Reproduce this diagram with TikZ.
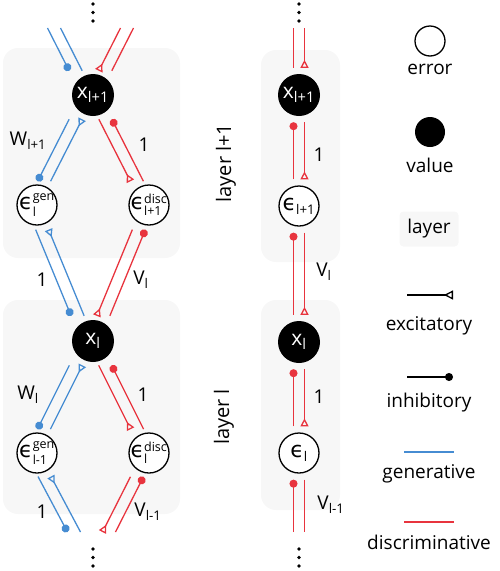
\documentclass[tikz,border=0pt]{standalone}
\usepackage{fontspec}
\usepackage{amsmath}
\setmainfont{Open Sans}
\newfontfamily\epsfont{DejaVu Sans}
\usetikzlibrary{arrows.meta}
\definecolor{genblue}{RGB}{70,140,210}
\definecolor{discred}{RGB}{232,52,62}
\definecolor{layergray}{RGB}{247,247,247}
\newcommand{\eps}{{\epsfont\fontsize{22}{22}\selectfont ϵ}}
\newcommand{\errtxt}[2]{\eps$^{\text{\fontsize{12.5}{13}\selectfont #1}}_{\text{\fontsize{12.5}{13}\selectfont #2}}$}
\begin{document}
\begin{tikzpicture}[x=1pt, y=-1pt, font=\fontsize{19}{22}\selectfont,
  val/.style={circle, fill=black, minimum size=42pt, inner sep=0pt, text=white, font=\fontsize{21}{22}\selectfont},
  err/.style={circle, draw, line width=1.3pt, fill=white, minimum size=40pt, inner sep=-3pt},
  layerbox/.style={fill=layergray, rounded corners=15pt},
  gen/.style={genblue, line width=1.3pt},
  disc/.style={discred, line width=1.3pt},
  exc/.style={-{Triangle[open, reversed, length=8pt, width=8pt]}},
  inh/.style={-{Circle[length=8pt]}},
  pair/.style={shorten <=6pt, shorten >=6pt},
  dot/.style={circle, fill, inner sep=0pt, minimum size=3.6pt}]
\useasboundingbox (0,0) rectangle (499,571);
\fill[layerbox] (3,48) rectangle (180,258);
\fill[layerbox] (3,300) rectangle (180,514);
\fill[layerbox] (261,50) rectangle (340,262);
\fill[layerbox] (261,300) rectangle (340,510);
\foreach \y in {4,12.5,21} {
  \node[dot] (dl\y) at (93,\y) {};
  \node[dot] (dm\y) at (299,\y) {};
}
\foreach \y in {549,557.5,566} {
  \node[dot] (bl\y) at (93,\y) {};
  \node[dot] (bm\y) at (299,\y) {};
}
\coordinate (gt) at (59,28);
\coordinate (rt) at (127,28);
\coordinate (gbt) at (79,532);
\coordinate (rbt) at (109,532);
\coordinate (mt) at (299,28);
\coordinate (mb) at (299,532);
\node[val] (xa) at (93,95) {x\textsubscript{l+1}};
\node[err] (ga) at (37,205) {\errtxt{gen}{l}};
\node[err] (da) at (149,205) {\errtxt{disc}{l+1}};
\node[val] (xb) at (93,341) {x\textsubscript{l}};
\node[err] (gb) at (37,453) {\errtxt{gen}{l-1}};
\node[err] (db) at (149,453) {\errtxt{disc}{l}};
\node[val] (mxa) at (299,95) {x\textsubscript{l+1}};
\node[err] (mea) at (299,206) {\eps\textsubscript{l+1}};
\node[val] (mxb) at (299,342) {x\textsubscript{l}};
\node[err] (meb) at (299,453) {\eps\textsubscript{l}};
\draw[gen, inh, shorten >=6pt, transform canvas={xshift=-11.5pt}] (gt) -- (xa);
\draw[gen, shorten <=6pt, transform canvas={xshift=1.5pt}] (xa) -- (gt);
\draw[disc, exc, shorten >=6pt, transform canvas={xshift=-6.5pt}] (rt) -- (xa);
\draw[disc, shorten <=6pt, transform canvas={xshift=6.5pt}] (xa) -- (rt);
\draw[gen, inh, pair, transform canvas={xshift=-11.5pt}] (xa) -- (ga);
\draw[gen, exc, pair, transform canvas={xshift=1.5pt}] (ga) -- (xa);
\draw[disc, inh, pair, transform canvas={xshift=6.5pt}] (da) -- (xa);
\draw[disc, exc, pair, transform canvas={xshift=-6.5pt}] (xa) -- (da);
\draw[gen, inh, pair, transform canvas={xshift=-11.5pt}] (ga) -- (xb);
\draw[gen, exc, pair, transform canvas={xshift=1.5pt}] (xb) -- (ga);
\draw[disc, inh, pair, transform canvas={xshift=6.5pt}] (xb) -- (da);
\draw[disc, exc, pair, transform canvas={xshift=-6.5pt}] (da) -- (xb);
\draw[gen, inh, pair, transform canvas={xshift=-11.5pt}] (xb) -- (gb);
\draw[gen, exc, pair, transform canvas={xshift=1.5pt}] (gb) -- (xb);
\draw[disc, inh, pair, transform canvas={xshift=6.5pt}] (db) -- (xb);
\draw[disc, exc, pair, transform canvas={xshift=-6.5pt}] (xb) -- (db);
\draw[gen, inh, shorten <=6pt, transform canvas={xshift=-11.5pt}] (gb) -- (gbt);
\draw[gen, exc, shorten >=6pt, transform canvas={xshift=1.5pt}] (gbt) -- (gb);
\draw[disc, inh, shorten >=6pt, transform canvas={xshift=6.5pt}] (rbt) -- (db);
\draw[disc, exc, shorten <=6pt, transform canvas={xshift=-6.5pt}] (db) -- (rbt);
\draw[disc, shorten >=6pt, transform canvas={xshift=-5.5pt}] (mt) -- (mxa);
\draw[disc, exc, shorten >=6pt, transform canvas={xshift=5.5pt}] (mt) -- (mxa);
\draw[disc, inh, pair, transform canvas={xshift=-5.5pt}] (mea) -- (mxa);
\draw[disc, exc, pair, transform canvas={xshift=5.5pt}] (mxa) -- (mea);
\draw[disc, inh, pair, transform canvas={xshift=-5.5pt}] (mxb) -- (mea);
\draw[disc, exc, pair, transform canvas={xshift=5.5pt}] (mea) -- (mxb);
\draw[disc, inh, pair, transform canvas={xshift=-5.5pt}] (meb) -- (mxb);
\draw[disc, exc, pair, transform canvas={xshift=5.5pt}] (mxb) -- (meb);
\draw[disc, inh, shorten >=6pt, transform canvas={xshift=-5.5pt}] (mb) -- (meb);
\draw[disc, shorten <=6pt, transform canvas={xshift=5.5pt}] (meb) -- (mb);
\node (wa) at (28,141) {W\textsubscript{l+1}};
\node (oa) at (144,145) {1};
\node (ob) at (42,280) {1};
\node (va) at (141,280) {V\textsubscript{l}};
\node (wb) at (28,395) {W\textsubscript{l}};
\node (oc) at (143,395) {1};
\node (od) at (42,512) {1};
\node (vb) at (148,512) {V\textsubscript{l-1}};
\node (me) at (319,155) {1};
\node (mva) at (324,272) {V\textsubscript{l}};
\node (mf) at (319,397) {1};
\node (mvb) at (331,505) {V\textsubscript{l-1}};
\node[rotate=90, font=\fontsize{20}{22}\selectfont] (laya) at (226,163) {layer l+1};
\node[rotate=90, font=\fontsize{20}{22}\selectfont] (layb) at (224,417) {layer l};
\node[err, minimum size=30pt] (lerr) at (430,41) {};
\node[anchor=base] (lerrt) at (430,74) {error};
\node[val, minimum size=30pt] (lval) at (430,132) {};
\node[anchor=base] (lvalt) at (430,172) {value};
\node[layerbox, rounded corners=4pt, minimum width=59pt, minimum height=35pt] (llay) at (429,229) {layer};
\coordinate (exa) at (407,295);
\coordinate (exb) at (453,295);
\draw[line width=1.3pt, -{Triangle[open, reversed, length=9pt, width=9pt]}] (exa) -- (exb);
\node[anchor=base] (exct) at (429,330) {excitatory};
\coordinate (ina) at (407,377);
\coordinate (inb) at (453,377);
\draw[line width=1.3pt, -{Circle[length=8pt]}] (ina) -- (inb);
\node[anchor=base] (inht) at (429,407) {inhibitory};
\coordinate (gna) at (404,452);
\coordinate (gnb) at (454,452);
\draw[gen] (gna) -- (gnb);
\node[anchor=base] (gent) at (429,478) {generative};
\coordinate (dsa) at (404,522);
\coordinate (dsb) at (454,522);
\draw[disc] (dsa) -- (dsb);
\node[anchor=base] (dist) at (429,549) {discriminative};
\end{tikzpicture}
\end{document}
